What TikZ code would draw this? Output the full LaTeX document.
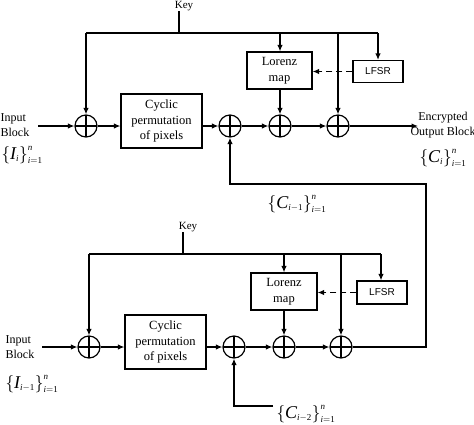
\documentclass[tikz,border=0pt]{standalone}
\usepackage{fontspec}
\setmainfont{Liberation Serif}
\newfontfamily\lfsrfont{Liberation Sans}
\usetikzlibrary{arrows.meta}
\newcommand{\mI}{\mathit{I}}
\newcommand{\mC}{\mathit{C}}
\newcommand{\mi}{\mathit{i}}
\newcommand{\mn}{\mathit{n}}
\newcommand{\setlab}[2]{$\Bigl\{#1_{\scriptscriptstyle #2}\Bigr\}_{\scriptscriptstyle\mi=\mathrm{1}}^{\scriptscriptstyle\mn}$}
\tikzset{
  arr/.style={-{Latex[length=6.5pt,width=5.5pt]}},
  dsh/.style={dash pattern=on 6pt off 4pt},
  xor/.style={draw, circle, minimum size=22pt, inner sep=0pt,
    path picture={\draw (path picture bounding box.north) -- (path picture bounding box.south)
      (path picture bounding box.west) -- (path picture bounding box.east);}},
  blk/.style={draw, align=center, font=\fontsize{12.5}{15.5}\selectfont, inner sep=0pt},
  lab/.style={font=\fontsize{12}{14.5}\selectfont, align=left, inner sep=0pt},
  keylab/.style={font=\fontsize{11}{13}\selectfont, inner sep=0pt},
  mlab/.style={font=\fontsize{18}{21}\selectfont, inner sep=0pt},
  lfsrbox/.style={draw, minimum width=50pt, minimum height=22pt, inner sep=0pt, font=\lfsrfont\fontsize{10}{12}\selectfont},
}
\begin{document}
\begin{tikzpicture}[x=1pt,y=-1pt, line width=1.2pt]
\useasboundingbox (0,0) rectangle (474,424);

% ---------- top stage ----------
\node[keylab] (tkey) at (184,6) {Key};
\node[lab, anchor=west] (tin) at (0,125) {Input\\Block};
\node[mlab, anchor=west] (tIi) at (1,155) {\setlab{\mI}{\mi}};
\node[xor] (tx1) at (86,126) {};
\node[blk, minimum width=81pt, minimum height=54pt] (tcyc) at (161.5,121) {Cyclic\\permutation\\of pixels};
\node[xor] (tx2) at (230,126) {};
\node[xor] (tx3) at (280,126) {};
\node[xor] (tx4) at (338,126) {};
\node[blk, minimum width=65pt, minimum height=37pt] (tlor) at (279.5,70.5) {Lorenz\\map};
\node[lfsrbox] (tlfsr) at (378,71.5) {LFSR};
\node[lab, align=center] (tout) at (443,125) {Encrypted\\Output Block};
\node[mlab] (tCi) at (443,158) {\setlab{\mC}{\mi}};
\node[mlab] (tCim1) at (297,204) {\setlab{\mC}{\mi-\mathrm{1}}};

\coordinate (tkc) at (179,33);
\coordinate (tk1) at (86,33);
\coordinate (tkL) at (280,33);
\coordinate (tk4) at (338,33);
\coordinate (tkR) at (378,33);
\coordinate (tinS) at (38,126);
\coordinate (toutE) at (418,126);

\draw (tkey.south -| tkc) -- (tkc);
\draw (tk1) -- (tkR);
\draw[arr] (tk1) -- (tx1);
\draw[arr] (tkL) -- (tkL |- tlor.north);
\draw[arr] (tk4) -- (tx4);
\draw[arr] (tkR) -- (tkR |- tlfsr.north);
\draw[arr] (tinS) -- (tx1);
\draw[arr] (tx1) -- (tx1 -| tcyc.west);
\draw[arr] (tx2 -| tcyc.east) -- (tx2);
\draw[arr] (tx2) -- (tx3);
\draw[arr] (tx3) -- (tx4);
\draw[arr] (tlor.south -| tx3) -- (tx3);
\draw[arr, dsh] (tlfsr.west) -- (tlfsr.west -| tlor.east);
\draw[arr] (tx4) -- (toutE);

% ---------- bottom stage ----------
\node[keylab] (bkey) at (188,227) {Key};
\node[lab, anchor=west] (bin) at (5,347) {Input\\Block};
\node[mlab, anchor=west] (bIi) at (5,384) {\setlab{\mI}{\mi-\mathrm{1}}};
\node[xor] (bx1) at (89,347) {};
\node[blk, minimum width=81pt, minimum height=54pt] (bcyc) at (165.5,342) {Cyclic\\permutation\\of pixels};
\node[xor] (bx2) at (234,347) {};
\node[xor] (bx3) at (284,347) {};
\node[xor] (bx4) at (341,347) {};
\node[blk, minimum width=66pt, minimum height=37pt] (blor) at (284,291.5) {Lorenz\\map};
\node[lfsrbox, minimum height=23pt] (blfsr) at (382,292.5) {LFSR};
\node[mlab, anchor=west] (bCim2) at (276,414) {\setlab{\mC}{\mi-\mathrm{2}}};

\coordinate (bkc) at (183,254);
\coordinate (bk1) at (89,254);
\coordinate (bkL) at (284,254);
\coordinate (bk4) at (341,254);
\coordinate (bkR) at (381,254);
\coordinate (binS) at (42,347);
\coordinate (fbc) at (426,184);
\coordinate (c2) at (273,406);

\draw (bkey.south -| bkc) -- (bkc);
\draw (bk1) -- (bkR);
\draw[arr] (bk1) -- (bx1);
\draw[arr] (bkL) -- (bkL |- blor.north);
\draw[arr] (bk4) -- (bx4);
\draw[arr] (bkR) -- (bkR |- blfsr.north);
\draw[arr] (binS) -- (bx1);
\draw[arr] (bx1) -- (bx1 -| bcyc.west);
\draw[arr] (bx2 -| bcyc.east) -- (bx2);
\draw[arr] (bx2) -- (bx3);
\draw[arr] (bx3) -- (bx4);
\draw[arr] (blor.south -| bx3) -- (bx3);
\draw[arr, dsh] (blfsr.west) -- (blfsr.west -| blor.east);
\draw[arr] (c2) -| (bx2);

% feedback
\draw[arr] (bx4) -| (fbc) -| (tx2);
\end{tikzpicture}
\end{document}
